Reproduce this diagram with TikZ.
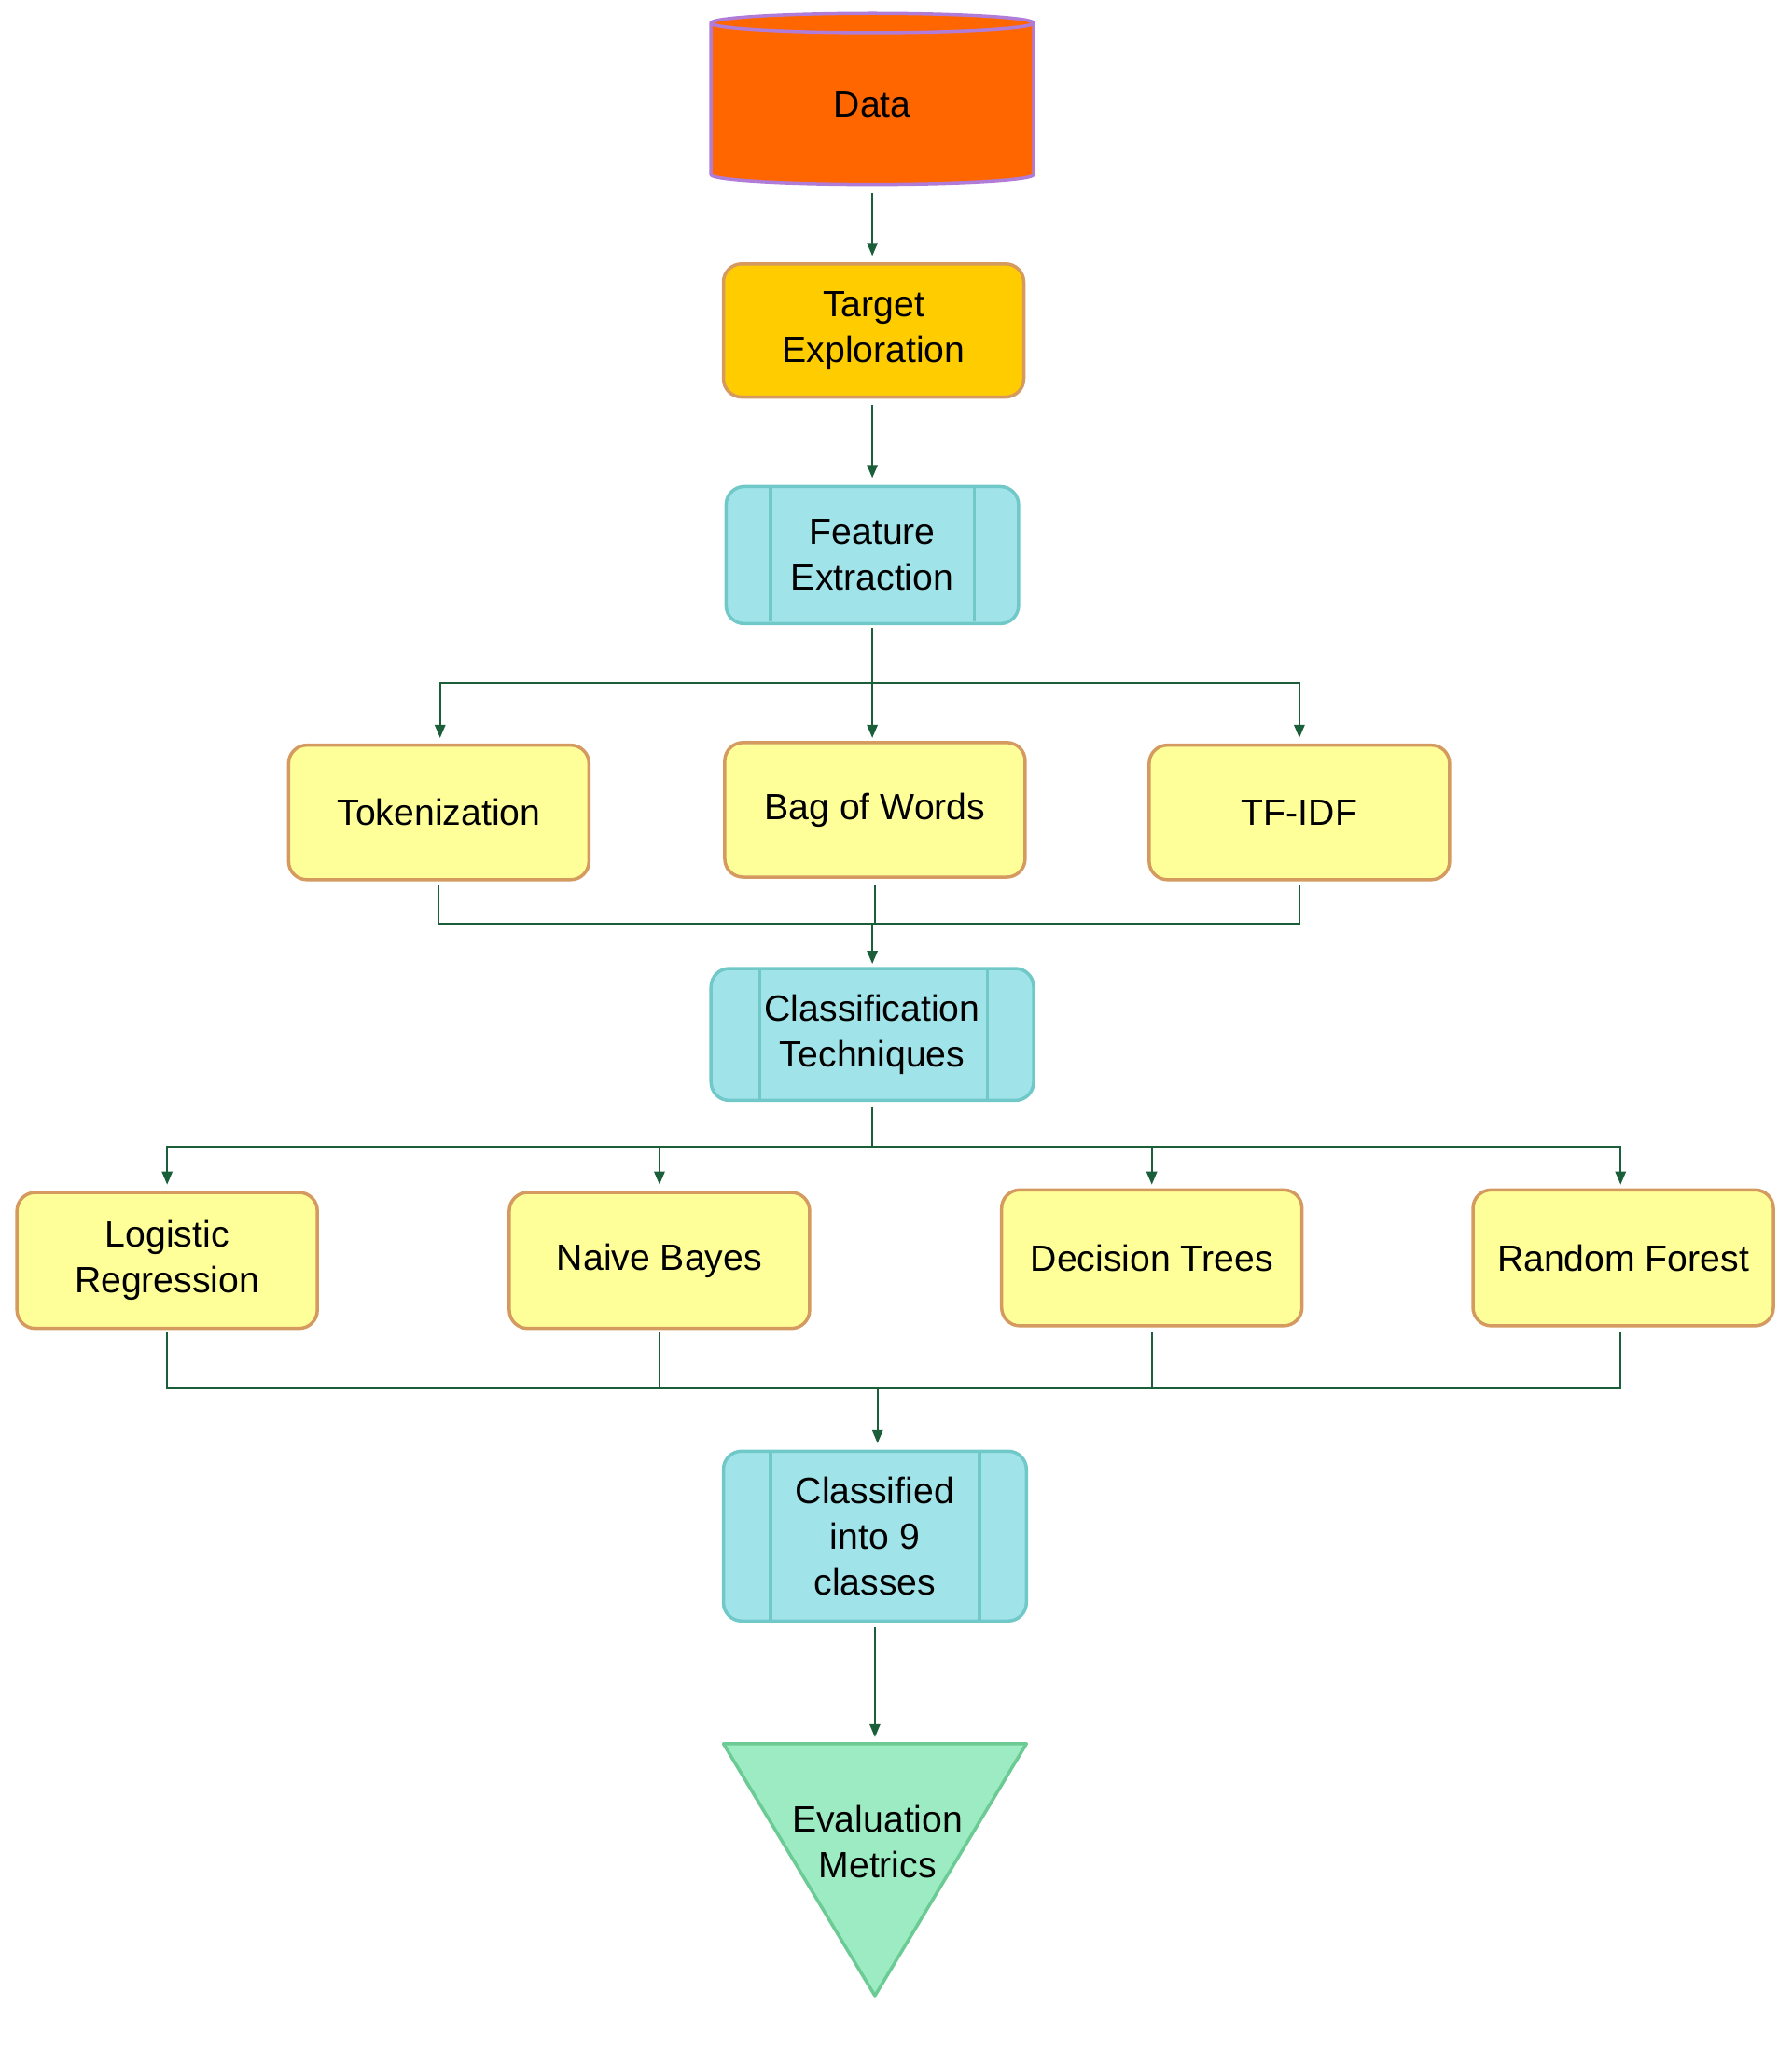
\documentclass[tikz,border=0pt]{standalone}
\usepackage{fontspec}
\setmainfont{Liberation Sans}
\usetikzlibrary{shapes.geometric,arrows.meta}
\definecolor{edge}{HTML}{1A5E3A}
\definecolor{ybord}{HTML}{D49A60}
\definecolor{yfill}{HTML}{FFFF99}
\definecolor{cfill}{HTML}{A0E4EA}
\definecolor{cbord}{HTML}{70C8C8}
\definecolor{dfill}{HTML}{FF6600}
\definecolor{dbord}{HTML}{B07CD8}
\definecolor{tfill}{HTML}{FFCC00}
\definecolor{efill}{HTML}{9DEBC3}
\definecolor{ebord}{HTML}{6CCB94}
\tikzset{
 base/.style={draw, line width=2.5pt, align=center, font=\fontsize{28}{35}\selectfont, inner sep=0pt},
 ybox/.style={base, rounded corners=14pt, fill=yfill, draw=ybord, minimum width=230pt, minimum height=103pt},
 pbox/.style={base, rounded corners=14pt, fill=cfill, draw=cbord},
 conn/.style={draw=edge, line width=1.5pt},
 arr/.style={conn, -{Triangle[length=10pt,width=8pt]}},
}
\begin{document}
\begin{tikzpicture}[x=1pt,y=-1pt]
\useasboundingbox (0,0) rectangle (1372,1568);
\node[base, cylinder, shape border rotate=90, aspect=0.25, fill=dfill, draw=dbord, minimum width=247pt, minimum height=131pt] (data) at (668,80) {Data};
\node[base, rounded corners=14pt, fill=tfill, draw=ybord, minimum width=230pt, minimum height=102pt] (te) at (669,253) {Target\\Exploration};
\node[pbox, minimum width=224pt, minimum height=105pt] (fe) at (668,425) {Feature\\Extraction};
\draw[cbord, line width=2.5pt] (590,373) -- (590,476) (746,373) -- (746,476);
\node[ybox] (tok) at (336,622) {Tokenization};
\node[ybox] (bow) at (670,620) {Bag of Words};
\node[ybox] (tf) at (995,622) {TF-IDF};
\node[pbox, minimum width=247pt, minimum height=101pt] (ct) at (668,792) {Classification\\Techniques};
\draw[cbord, line width=2.5pt] (582,743) -- (582,842) (756,743) -- (756,842);
\node[ybox, minimum height=104pt] (lr) at (128,965) {Logistic\\Regression};
\node[ybox, minimum height=104pt] (nb) at (505,965) {Naive Bayes};
\node[ybox, minimum height=104pt] (dt) at (882,963) {Decision Trees};
\node[ybox, minimum height=104pt] (rf) at (1243,963) {Random Forest};
\node[pbox, minimum width=232pt, minimum height=130pt] (cl) at (670,1176) {Classified\\into 9\\classes};
\draw[cbord, line width=2.5pt] (590,1112) -- (590,1240) (750,1112) -- (750,1240);
\coordinate (t1) at (554,1335); \coordinate (t2) at (786,1335); \coordinate (t3) at (670,1528);
\draw[fill=efill, draw=ebord, line width=2.5pt, line join=round] (t1) -- (t2) -- (t3) -- cycle;
\node[font=\fontsize{28}{35}\selectfont, align=center] (ev) at (672,1410) {Evaluation\\Metrics};
\draw[arr] (668,148) -- (668,196);
\draw[arr] (668,310) -- (668,366);
\coordinate (s1) at (668,523);
\draw[conn] (668,481) -- (s1);
\draw[arr] (s1) -| (337,565);
\draw[arr] (s1) -| (995,565);
\draw[arr] (s1) -- (668,565);
\draw[conn] (336,678) |- (668,707);
\draw[conn] (995,678) |- (668,707);
\draw[conn] (670,678) -- (670,707);
\draw[arr] (668,707) -- (668,738);
\coordinate (s2) at (668,878);
\draw[conn] (668,847) -- (s2);
\draw[arr] (s2) -| (128,907);
\draw[arr] (s2) -| (505,907);
\draw[arr] (s2) -| (882,907);
\draw[arr] (s2) -| (1241,907);
\coordinate (m3) at (672,1063);
\draw[conn] (128,1020) |- (m3);
\draw[conn] (505,1020) |- (m3);
\draw[conn] (882,1020) |- (m3);
\draw[conn] (1241,1020) |- (m3);
\draw[arr] (m3) -- (672,1105);
\draw[arr] (670,1246) -- (670,1330);
\end{tikzpicture}
\end{document}
